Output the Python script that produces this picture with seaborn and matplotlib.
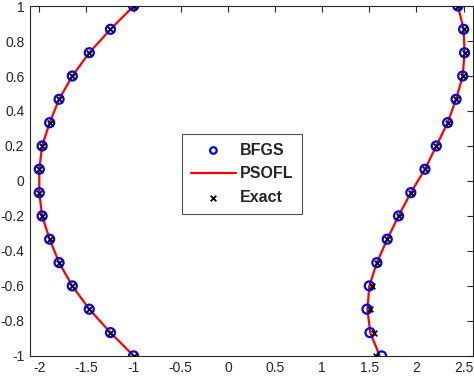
import numpy as np
import pandas as pd
import matplotlib
matplotlib.use("Agg")
import matplotlib.pyplot as plt
import seaborn as sns

sns.set_theme(style="white")
plt.rcParams['font.family'] = ['Liberation Sans', 'DejaVu Sans']

# y positions of the nodes (top to bottom)
y_nodes = [1.0, 0.867, 0.733, 0.6, 0.467, 0.333, 0.2, 0.067,
           -0.067, -0.2, -0.333, -0.467, -0.6, -0.733, -0.867, -1.0]

# left boundary (all methods agree)
x_left = [-1.0, -1.245, -1.47, -1.65, -1.79, -1.89, -1.97, -2.0,
          -2.0, -1.97, -1.89, -1.79, -1.65, -1.47, -1.245, -1.0]

# right boundary, BFGS / PSOFL
x_right_bfgs = [2.44, 2.50, 2.51, 2.49, 2.42, 2.33, 2.21, 2.09,
                1.94, 1.81, 1.69, 1.58, 1.50, 1.475, 1.507, 1.63]
x_right_psofl = [2.44, 2.50, 2.51, 2.49, 2.42, 2.33, 2.21, 2.09,
                 1.94, 1.81, 1.69, 1.58, 1.50, 1.48, 1.51, 1.61]
# right boundary, exact
x_right_exact = [2.44, 2.50, 2.51, 2.49, 2.42, 2.33, 2.21, 2.09,
                 1.94, 1.81, 1.69, 1.585, 1.53, 1.51, 1.545, 1.57]

n = len(y_nodes)
bfgs = pd.DataFrame({"x": x_left + x_right_bfgs, "y": y_nodes * 2})
psofl = pd.DataFrame({"x": x_left + x_right_psofl, "y": y_nodes * 2,
                      "curve": ["left"] * n + ["right"] * n})
exact = pd.DataFrame({"x": x_left + x_right_exact, "y": y_nodes * 2})

fig, ax = plt.subplots(figsize=(4.74, 3.77), dpi=100)
fig.subplots_adjust(left=0.063, right=0.998, bottom=0.056, top=0.984)

sns.lineplot(data=psofl, x="x", y="y", units="curve", estimator=None, sort=False,
             color="red", linewidth=1.6, ax=ax, label="PSOFL", zorder=2)
sns.scatterplot(data=bfgs, x="x", y="y", marker="o", s=42, facecolors="none",
                edgecolor="blue", linewidth=1.6, ax=ax, label="BFGS", zorder=3)
sns.scatterplot(data=exact, x="x", y="y", marker="x", s=16, color="black",
                linewidth=1.3, ax=ax, label="Exact", zorder=4)

ax.set_xlim(-2.1, 2.6)
ax.set_ylim(-1, 1)
ax.set_xticks([-2, -1.5, -1, -0.5, 0, 0.5, 1, 1.5, 2, 2.5])
ax.set_xticklabels(["-2", "-1.5", "-1", "-0.5", "0", "0.5", "1", "1.5", "2", "2.5"])
ax.set_yticks(np.round(np.arange(-1, 1.01, 0.2), 1))
ax.set_yticklabels(["-1", "-0.8", "-0.6", "-0.4", "-0.2", "0", "0.2", "0.4", "0.6", "0.8", "1"])
ax.set_xlabel("")
ax.set_ylabel("")
ax.tick_params(direction="in", top=True, right=True, length=4, width=0.8,
               labelsize=10, colors="#262626")
ax.tick_params(axis="y", pad=4)
ax.tick_params(axis="x", pad=3.5)
for sp in ax.spines.values():
    sp.set_color("#262626")
    sp.set_linewidth(0.8)

handles, labels = ax.get_legend_handles_labels()
order = [labels.index(k) for k in ["BFGS", "PSOFL", "Exact"]]
leg = ax.legend([handles[i] for i in order], [labels[i] for i in order],
                loc="center", bbox_to_anchor=(0.479, 0.52),
                prop={"weight": "bold", "size": 11.5}, frameon=True, fancybox=False,
                edgecolor="#262626", handlelength=2.8, handletextpad=0.25,
                borderpad=0.55, labelspacing=0.55, borderaxespad=0)
leg.get_frame().set_linewidth(0.8)
leg.legend_handles[0].set_sizes([22])

fig.savefig("out.png", dpi=100)
